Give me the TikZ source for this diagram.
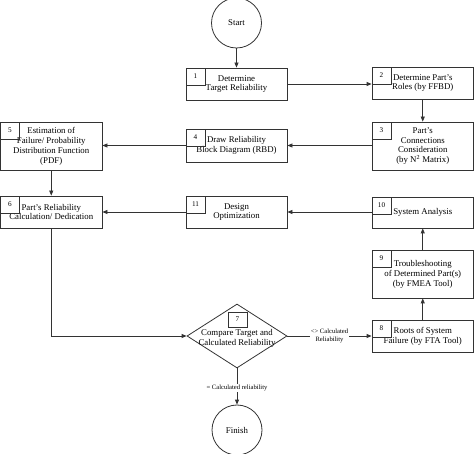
\documentclass[tikz,border=0pt]{standalone}
\usepackage{fontspec}
\setmainfont{Liberation Serif}
\usetikzlibrary{arrows.meta,shapes.geometric}
\begin{document}
\begin{tikzpicture}[x=1pt,y=-1pt,
 box/.style={draw=black!80,line width=0.8pt,rectangle,align=center,inner sep=0pt,font=\fontsize{8.8}{9.9}\selectfont},
 numbox/.style={draw=black!80,line width=0.8pt,rectangle,inner sep=0pt,anchor=north west,minimum width=19pt,minimum height=17pt,font=\fontsize{7.2}{8}\selectfont},
 term/.style={draw=black!80,line width=0.8pt,circle,inner sep=0pt,minimum size=50pt,font=\fontsize{8.8}{9.9}\selectfont},
 arr/.style={draw=black!80,line width=0.8pt,-{Triangle[length=5pt,width=4pt]}},
 lbl/.style={fill=white,inner sep=1pt,align=center,font=\fontsize{6.6}{8}\selectfont}]
\useasboundingbox (0,0) rectangle (474,454);

\node[term] (start) at (236.5,23) {Start};
\node[term] (finish) at (237,430) {Finish};

\node[box,minimum width=101pt,minimum height=32pt] (b1) at (236.5,84) {Determine\\Target Reliability};
\node[box,minimum width=101.5pt,minimum height=32pt] (b2) at (422.75,83) {Determine Part's\\Roles (by FFBD)};
\node[box,minimum width=101.5pt,minimum height=48pt] (b3) at (422.75,146) {Part's\\Connections\\Consideration\\(by N\textsuperscript{2} Matrix)};
\node[box,minimum width=101pt,minimum height=33pt] (b4) at (236.5,145.5) {Draw Reliability\\Block Diagram (RBD)};
\node[box,minimum width=101.5pt,minimum height=48pt] (b5) at (51.25,146) {Estimation of\\Failure/ Probability\\Distribution Function\\(PDF)};
\node[box,minimum width=101.5pt,minimum height=32pt] (b6) at (51.25,212) {Part's Reliability\\Calculation/ Dedication};
\node[box,minimum width=101pt,minimum height=32pt] (b11) at (236.5,212) {Design\\Optimization};
\node[box,minimum width=101.5pt,minimum height=31pt] (b10) at (422.75,212.5) {System Analysis};
\node[box,minimum width=101.5pt,minimum height=48pt] (b9) at (422.75,274) {Troubleshooting\\of Determined Part(s)\\(by FMEA Tool)};
\node[box,minimum width=101.5pt,minimum height=32pt] (b8) at (422.75,336) {Roots of System\\Failure (by FTA Tool)};

\node[draw=black!80,line width=0.8pt,diamond,inner sep=0pt,minimum width=100pt,minimum height=64pt] (d7) at (237,336) {};
\node[align=center,font=\fontsize{8.8}{9.9}\selectfont] (d7t) at (237,338) {Compare Target and\\Calculated Reliability};
\node[numbox,anchor=center,minimum height=15pt] (n7) at (237.5,319.5) {7};

\node[numbox] (n1) at (b1.north west) {1};
\node[numbox] (n2) at (b2.north west) {2};
\node[numbox] (n3) at (b3.north west) {3};
\node[numbox] (n4) at (b4.north west) {4};
\node[numbox] (n5) at (b5.north west) {5};
\node[numbox] (n6) at (b6.north west) {6};
\node[numbox] (n11) at (b11.north west) {11};
\node[numbox] (n10) at (b10.north west) {10};
\node[numbox] (n9) at (b9.north west) {9};
\node[numbox] (n8) at (b8.north west) {8};

\draw[arr] (start) -- (b1);
\draw[arr] (b1) -- (b2.west |- b1.east);
\draw[arr] (b2) -- (b3);
\draw[arr] (b3.west |- b4.east) -- (b4);
\draw[arr] (b4) -- (b5.east |- b4.west);
\draw[arr] (b5) -- (b6);
\draw[arr] (b11) -- (b6);
\draw[arr] (b10.west |- b11.east) -- (b11);
\draw[arr] (b9) -- (b10);
\draw[arr] (b8) -- (b9);
\draw[arr] (b6) |- (d7.west);
\draw[arr] (d7.east) -- node[lbl] {<> Calculated\\Reliability} (b8);
\draw[arr] (d7.south) -- node[lbl,pos=0.55] {= Calculated reliability} (finish);
\end{tikzpicture}
\end{document}
